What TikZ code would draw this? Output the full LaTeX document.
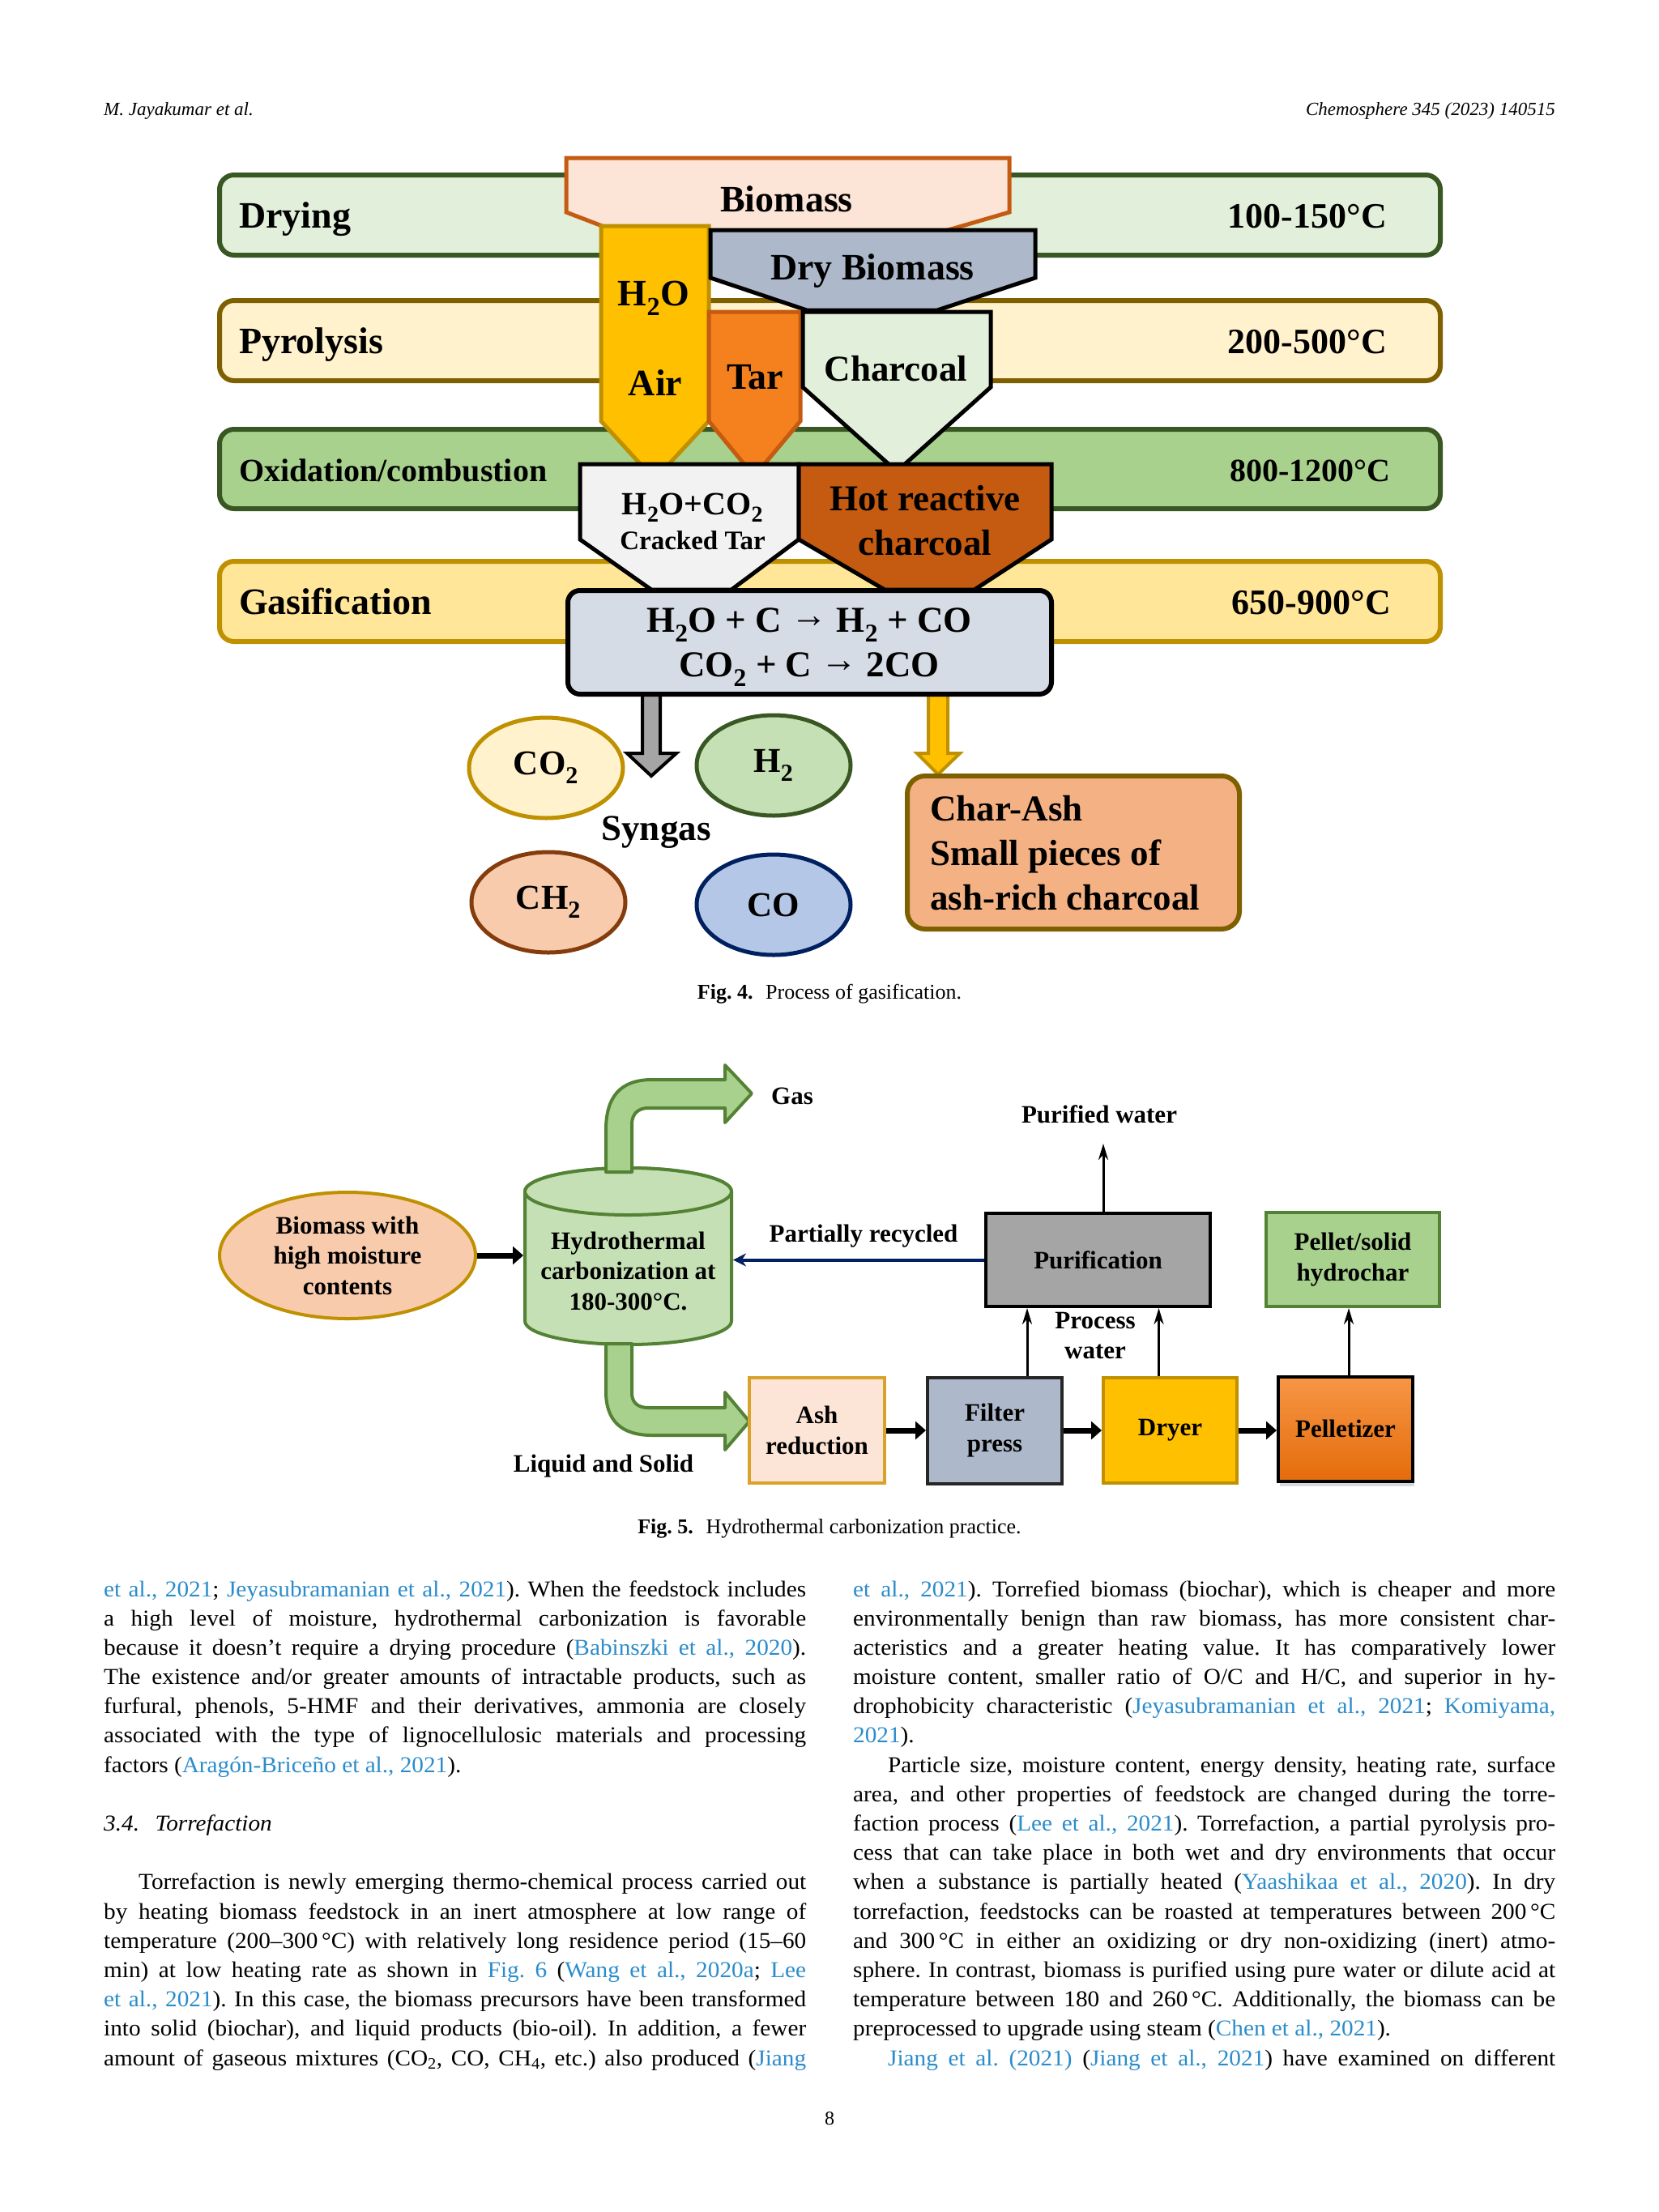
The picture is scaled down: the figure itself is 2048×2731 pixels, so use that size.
\documentclass[tikz,border=0pt]{standalone}
\usepackage{fontspec}
\setmainfont{Liberation Serif}
\newfontfamily\bodyfam[FakeStretch=1.045]{Liberation Serif}
\usetikzlibrary{shapes.geometric,arrows.meta,shadows}
\frenchspacing

\definecolor{citeblue}{HTML}{2B8CCB}
\definecolor{dryfill}{HTML}{E2EFDA}
\definecolor{dgreen}{HTML}{385723}
\definecolor{pyrofill}{HTML}{FFF2CC}
\definecolor{pyrobord}{HTML}{7F6000}
\definecolor{oxfill}{HTML}{A9D18E}
\definecolor{gasfill}{HTML}{FFE699}
\definecolor{gold}{HTML}{BF9000}
\definecolor{peach}{HTML}{FCE4D6}
\definecolor{rust}{HTML}{C55A11}
\definecolor{bluegray}{HTML}{ADB9CA}
\definecolor{amber}{HTML}{FFC000}
\definecolor{tarfill}{HTML}{F4801E}
\definecolor{lightgray}{HTML}{F2F2F2}
\definecolor{reactfill}{HTML}{D6DCE5}
\definecolor{midgray}{HTML}{A5A5A5}
\definecolor{h2fill}{HTML}{C5E0B4}
\definecolor{ch2fill}{HTML}{F8CBAD}
\definecolor{ch2bord}{HTML}{843C0C}
\definecolor{cofill}{HTML}{B4C7E7}
\definecolor{navy}{HTML}{002060}
\definecolor{charash}{HTML}{F4B183}
\definecolor{lgreen}{HTML}{548235}
\definecolor{ashbord}{HTML}{D9A22B}
\definecolor{peltop}{HTML}{F79646}
\definecolor{pelbot}{HTML}{E46C0A}

\newcommand\fsz[2]{\fontsize{#1}{#2}\selectfont}
\newcommand\refc[1]{\textcolor{citeblue}{#1}}
\newcommand\rarr{\raisebox{0.12em}{→}}
\newlength\colw
\setlength\colw{867pt}
\newcommand\bline[3]{\node[bodyln] (#1) at #2 {\makebox[\colw][s]{#3}};}
\newcommand\eline[3]{\node[bodyln] (#1) at #2 {#3};}

\tikzset{
  bodyln/.style={anchor=base west, inner sep=0pt, font=\bodyfam\fsz{28}{34}},
  bandlbl/.style={anchor=base west, inner sep=0pt, font=\fsz{46}{55}\bfseries},
  templbl/.style={anchor=base east, inner sep=0pt, font=\fsz{44}{52}\bfseries},
  big/.style={anchor=base, inner sep=0pt, font=\fsz{46}{55}\bfseries},
  band/.style={rounded corners=18pt, line width=6pt},
  shp/.style={line width=5pt, line join=miter},
  gas/.style={ellipse, line width=5pt, minimum width=190pt, minimum height=124pt, inner sep=0pt, font=\fsz{43}{50}\bfseries},
  lab/.style={anchor=base, inner sep=0pt, font=\fsz{31}{37.5}\bfseries},
  box/.style={rectangle, line width=4pt, inner sep=0pt, align=center, font=\fsz{31}{37.5}\bfseries},
  thinarr/.style={line width=3pt, -{Stealth[length=20pt,width=12pt]}},
  thickarr/.style={line width=7pt, -{Triangle[length=13pt,width=22pt]}},
  navyarr/.style={line width=4pt, draw=navy, -{Stealth[length=16pt,width=16pt]}},
  greenarrow/.style={fill=oxfill, draw=lgreen, line width=4pt, line join=round},
}

\begin{document}
\begin{tikzpicture}[x=1pt,y=-1pt]
\fill[white] (0,0) rectangle (2048,2731);
\useasboundingbox (0,0) rectangle (2048,2731);

% header
\node[anchor=base west, inner sep=0pt, font=\fsz{23}{28}\itshape] (hleft) at (128,142) {M. Jayakumar et al.};
\node[anchor=base east, inner sep=0pt, font=\fsz{23}{28}\itshape] (hright) at (1920,142) {Chemosphere 345 (2023) 140515};

% ===== Fig. 4 =====
\draw[band, draw=dgreen, fill=dryfill] (271,216) rectangle (1778,315);
\draw[band, draw=pyrobord, fill=pyrofill] (271,371) rectangle (1778,470);
\draw[band, draw=dgreen, fill=oxfill] (271,530) rectangle (1778,628);
\draw[band, draw=gold, fill=gasfill] (271,693) rectangle (1778,792);

\node[bandlbl] (tdry) at (295,281) {Drying};
\node[bandlbl] (tpyro) at (295,436) {Pyrolysis};
\node[bandlbl, font=\fsz{40}{48}\bfseries] (toxi) at (295,594) {Oxidation/combustion};
\node[bandlbl] (tgasi) at (295,758) {Gasification};
\node[templbl] (t1) at (1712,281) {100-150°C};
\node[templbl] (t2) at (1712,436) {200-500°C};
\node[templbl, font=\fsz{40}{48}\bfseries] (t3) at (1717,594) {800-1200°C};
\node[templbl] (t4) at (1717,758) {650-900°C};

% process shapes
\draw[shp, draw=rust, fill=peach] (699,195) -- (1246,195) -- (1246,262) -- (1167,285) -- (759,285) -- (699,262) -- cycle;
\draw[shp, draw=gold, fill=amber] (742,279) -- (875,279) -- (875,520) -- (808,592) -- (742,520) -- cycle;
\draw[shp, draw=black, fill=bluegray] (877,284) -- (1278,284) -- (1278,343) -- (1157,383) -- (996,383) -- (877,343) -- cycle;
\draw[shp, draw=rust, fill=tarfill] (875,385) -- (988,385) -- (988,520) -- (931,588) -- (875,520) -- cycle;
\draw[shp, draw=black, fill=dryfill] (991,385) -- (1223,385) -- (1223,478) -- (1107,582) -- (991,478) -- cycle;
\draw[shp, draw=black, fill=lightgray] (716,573) -- (986,573) -- (986,666) -- (903,728) -- (804,728) -- (716,666) -- cycle;
\draw[shp, draw=black, fill=rust] (986,573) -- (1298,573) -- (1298,666) -- (1203,728) -- (1092,728) -- (986,666) -- cycle;

% output arrows
\draw[line width=4pt, draw=black, fill=midgray, line join=miter] (793,850) -- (815,850) -- (815,930) -- (835,930) -- (804,958) -- (774,930) -- (793,930) -- cycle;
\draw[line width=4pt, draw=gold, fill=amber, line join=miter] (1146,850) -- (1170,850) -- (1170,930) -- (1185,930) -- (1158,956) -- (1132,930) -- (1146,930) -- cycle;

\node[draw=black, fill=reactfill, line width=6pt, rounded corners=15pt, minimum width=597pt, minimum height=128pt, inner sep=0pt] (react) at (999.5,793) {};

\node[big] (tbio) at (971,261) {Biomass};
\node[big] (tdryb) at (1077,345) {Dry Biomass};
\node[big] (th2o) at (807,377) {H\textsubscript{2}O};
\node[big] (tair) at (809,488) {Air};
\node[big] (ttar) at (932,480) {Tar};
\node[big, font=\fsz{45}{54}\bfseries] (tchar) at (1106,470) {Charcoal};
\node[big, font=\fsz{40}{48}\bfseries] (th2oco2) at (855,635) {H\textsubscript{2}O+CO\textsubscript{2}};
\node[big, font=\fsz{33}{40}\bfseries] (tcrack) at (855,678) {Cracked Tar};
\node[big, font=\fsz{45}{54}\bfseries] (thot1) at (1142,630) {Hot reactive};
\node[big, font=\fsz{45}{54}\bfseries] (thot2) at (1142,685) {charcoal};
\node[big, font=\fsz{45}{54}\bfseries] (tr1) at (999,780) {H\textsubscript{2}O + C \rarr{} H\textsubscript{2} + CO};
\node[big, font=\fsz{45}{54}\bfseries] (tr2) at (999,835) {CO\textsubscript{2} + C \rarr{} 2CO};

\node[gas, draw=gold, fill=pyrofill] (co2) at (674,948) {CO\textsubscript{2}};
\node[gas, draw=dgreen, fill=h2fill] (h2) at (955,945) {H\textsubscript{2}};
\node[gas, draw=ch2bord, fill=ch2fill] (ch2) at (677,1114) {CH\textsubscript{2}};
\node[gas, draw=navy, fill=cofill] (co) at (955,1117) {CO};
\node[big, font=\fsz{45}{54}\bfseries] (tsyn) at (810,1037) {Syngas};

\node[draw=pyrobord, fill=charash, line width=6pt, rounded corners=22pt, minimum width=410pt, minimum height=189pt, inner sep=0pt] (charbox) at (1325,1052.5) {};
\node[anchor=base west, inner sep=0pt, font=\fsz{45}{54}\bfseries] (ca1) at (1148,1013) {Char-Ash};
\node[anchor=base west, inner sep=0pt, font=\fsz{45}{54}\bfseries] (ca2) at (1148,1068) {Small pieces of};
\node[anchor=base west, inner sep=0pt, font=\fsz{45}{54}\bfseries] (ca3) at (1148,1123) {ash-rich charcoal};

\node[anchor=base, inner sep=0pt, font=\fsz{26}{30}] (cap4) at (1024,1233) {\textbf{Fig. 4.}\hspace{0.6em}Process of gasification.};

% ===== Fig. 5 =====
% cylinder
\draw[line width=4pt, draw=lgreen, fill=h2fill] (648,1471) -- (648,1631) arc[start angle=180, end angle=360, x radius=127.5pt, y radius=29pt] -- (903,1471) arc[start angle=0, end angle=180, x radius=127.5pt, y radius=29pt] -- cycle;
\draw[line width=4pt, draw=lgreen, fill=h2fill] (775.5,1471) ellipse [x radius=127.5pt, y radius=29pt];
\node[box, minimum width=255pt, minimum height=160pt] (hyd) at (775.5,1569) {Hydrothermal\\carbonization at\\180-300°C.};

% bent green arrows
\draw[greenarrow] (748,1447) -- (748,1395) .. controls (748,1355) and (765,1333) .. (805,1333) -- (895,1333) -- (895,1315) -- (928,1350) -- (895,1386) -- (895,1368) -- (800,1368) .. controls (788,1368) and (780,1375) .. (780,1388) -- (780,1447) -- cycle;
\draw[greenarrow] (748,1659) -- (748,1718) .. controls (748,1755) and (768,1772) .. (805,1772) -- (895,1772) -- (895,1790) -- (925,1755) -- (895,1719) -- (895,1738) -- (800,1738) .. controls (788,1738) and (780,1732) .. (780,1720) -- (780,1659) -- cycle;

\node[lab] (tgas) at (978,1363) {Gas};
\node[lab] (tliq) at (745,1817) {Liquid and Solid};

\node[ellipse, draw=gold, fill=ch2fill, line width=4pt, minimum width=316pt, minimum height=156pt, inner sep=0pt, align=center, font=\fsz{31}{37.5}\bfseries] (bio) at (429,1550) {Biomass with\\high moisture\\contents};

\node[box, draw=black, fill=midgray, minimum width=277pt, minimum height=115pt] (purif) at (1355.5,1555.5) {Purification};
\node[box, draw=lgreen, fill=oxfill, minimum width=214pt, minimum height=116pt] (pellet) at (1670,1555) {Pellet/solid\\hydrochar};
\node[box, draw=ashbord, fill=peach, minimum width=167pt, minimum height=130pt] (ash) at (1008.5,1766) {Ash\\reduction};
\node[box, draw=black!85, fill=bluegray, minimum width=166pt, minimum height=131pt] (filter) at (1228,1766) {Filter\\press};
\node[box, draw=gold, fill=amber, minimum width=165pt, minimum height=130pt] (dryer) at (1444.5,1766) {Dryer};
\node[box, draw=black, top color=peltop, bottom color=pelbot, minimum width=166pt, minimum height=129pt, drop shadow={shadow xshift=2pt, shadow yshift=-6pt, opacity=0.3}] (pelletizer) at (1661,1764) {Pelletizer};

\node[lab] (tpw) at (1357,1386) {Purified water};
\node[lab] (tpr) at (1066,1533) {Partially recycled};
\node[lab] (tproc1) at (1352,1640) {Process};
\node[lab] (tproc2) at (1352,1677) {water};
\coordinate (pwtip) at (1362,1412);

\draw[thickarr] (bio.east) -- (bio.east -| hyd.west);
\draw[navyarr] (purif.west) -- (purif.west -| hyd.east);
\draw[thinarr] (purif.north -| pwtip) -- (pwtip);
\draw[thickarr] (ash.east) -- (filter.west);
\draw[thickarr] (filter.east) -- (dryer.west);
\draw[thickarr] (dryer.east) -- (dryer.east -| pelletizer.west);
\draw[thinarr] ([xshift=40pt]filter.north) -- ([xshift=40pt]filter.north |- purif.south);
\draw[thinarr] ([xshift=-14pt]dryer.north) -- ([xshift=-14pt]dryer.north |- purif.south);
\draw[thinarr] ([xshift=4pt]pelletizer.north) -- ([xshift=4pt]pelletizer.north |- pellet.south);

\node[anchor=base, inner sep=0pt, font=\fsz{26}{30}] (cap5) at (1024,1893) {\textbf{Fig. 5.}\hspace{0.6em}Hydrothermal carbonization practice.};

% ===== body text =====
\bline{la1}{(128,1971)}{\refc{et al., 2021}; \refc{Jeyasubramanian et al., 2021}). When the feedstock includes}
\bline{la2}{(128,2007.2)}{a high level of moisture, hydrothermal carbonization is favorable}
\bline{la3}{(128,2043.4)}{because it doesn’t require a drying procedure (\refc{Babinszki et al., 2020}).}
\bline{la4}{(128,2079.6)}{The existence and/or greater amounts of intractable products, such as}
\bline{la5}{(128,2115.8)}{furfural, phenols, 5-HMF and their derivatives, ammonia are closely}
\bline{la6}{(128,2151.9)}{associated with the type of lignocellulosic materials and processing}
\eline{la7}{(128,2188.1)}{factors (\refc{Aragón-Briceño et al., 2021}).}
\node[bodyln, font=\bodyfam\fsz{28}{34}\itshape] (h34) at (128,2260.5) {3.4.\hspace{0.7em}Torrefaction};
\bline{lb1}{(128,2332.9)}{\hspace*{43pt}Torrefaction is newly emerging thermo-chemical process carried out}
\bline{lb2}{(128,2369.1)}{by heating biomass feedstock in an inert atmosphere at low range of}
\bline{lb3}{(128,2405.3)}{temperature (200–300\,°C) with relatively long residence period (15–60}
\bline{lb4}{(128,2441.5)}{min) at low heating rate as shown in \refc{Fig. 6} (\refc{Wang et al., 2020a}; \refc{Lee}}
\bline{lb5}{(128,2477.7)}{\refc{et al., 2021}). In this case, the biomass precursors have been transformed}
\bline{lb6}{(128,2513.9)}{into solid (biochar), and liquid products (bio-oil). In addition, a fewer}
\bline{lb7}{(128,2550)}{amount of gaseous mixtures (CO\textsubscript{2}, CO, CH\textsubscript{4}, etc.) also produced (\refc{Jiang}}

\bline{ra1}{(1053,1971)}{\refc{et al., 2021}). Torrefied biomass (biochar), which is cheaper and more}
\bline{ra2}{(1053,2007.2)}{environmentally benign than raw biomass, has more consistent char-}
\bline{ra3}{(1053,2043.4)}{acteristics and a greater heating value. It has comparatively lower}
\bline{ra4}{(1053,2079.6)}{moisture content, smaller ratio of O/C and H/C, and superior in hy-}
\bline{ra5}{(1053,2115.8)}{drophobicity characteristic (\refc{Jeyasubramanian et al., 2021}; \refc{Komiyama,}}
\eline{ra6}{(1053,2151.9)}{\refc{2021}).}
\bline{ra7}{(1053,2188.1)}{\hspace*{43pt}Particle size, moisture content, energy density, heating rate, surface}
\bline{ra8}{(1053,2224.3)}{area, and other properties of feedstock are changed during the torre-}
\bline{ra9}{(1053,2260.5)}{faction process (\refc{Lee et al., 2021}). Torrefaction, a partial pyrolysis pro-}
\bline{ra10}{(1053,2296.7)}{cess that can take place in both wet and dry environments that occur}
\bline{ra11}{(1053,2332.9)}{when a substance is partially heated (\refc{Yaashikaa et al., 2020}). In dry}
\bline{ra12}{(1053,2369.1)}{torrefaction, feedstocks can be roasted at temperatures between 200\,°C}
\bline{ra13}{(1053,2405.3)}{and 300\,°C in either an oxidizing or dry non-oxidizing (inert) atmo-}
\bline{ra14}{(1053,2441.5)}{sphere. In contrast, biomass is purified using pure water or dilute acid at}
\bline{ra15}{(1053,2477.7)}{temperature between 180 and 260\,°C. Additionally, the biomass can be}
\eline{ra16}{(1053,2513.9)}{preprocessed to upgrade using steam (\refc{Chen et al., 2021}).}
\bline{ra17}{(1053,2550)}{\hspace*{43pt}\refc{Jiang et al. (2021)} (\refc{Jiang et al., 2021}) have examined on different}

\node[anchor=base, inner sep=0pt, font=\fsz{24}{28}] (pgnum) at (1024,2623) {8};
\end{tikzpicture}
\end{document}
